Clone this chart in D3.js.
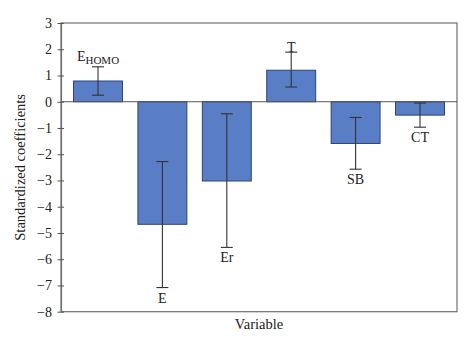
<!DOCTYPE html>
<html><head><meta charset="utf-8">
<script src="https://cdn.jsdelivr.net/npm/d3@7"></script>
<style>body{margin:0;background:#fff}svg{display:block}</style>
</head><body>
<svg id="c" width="474" height="347"></svg>
<script>
const categories = ["EHOMO","E","Er","T","SB","CT"];
const values     = [0.79, -4.67, -3.02, 1.20, -1.59, -0.51];
const errUpper   = [1.33, -2.28, -0.46, 1.89, -0.60, -0.05];
const errLower   = [0.25, -7.08, -5.55, 0.56, -2.57, -0.97];
const yTicks     = [3,2,1,0,-1,-2,-3,-4,-5,-6,-7,-8];

const FONT = "Liberation Serif";
const svg = d3.select("#c").attr("font-family",FONT);
const L=61, R=457, T=23, B=311.7;
const y = d3.scaleLinear().domain([-8,3]).range([B,T]);
const x = d3.scaleBand().domain(categories).range([65.8,452.2]).paddingInner(0.24).paddingOuter(0.12);

// frame
svg.append("rect").attr("x",L).attr("y",T).attr("width",R-L).attr("height",B-T)
  .attr("fill","none").attr("stroke","#707070").attr("stroke-width",1.2);

// bars
svg.selectAll("rect.bar").data(categories).join("rect").attr("class","bar")
  .attr("x",d=>x(d)).attr("width",x.bandwidth())
  .attr("y",(d,i)=>y(Math.max(0,values[i])))
  .attr("height",(d,i)=>Math.abs(y(values[i])-y(0)))
  .attr("fill","#5a7ec6").attr("stroke","#2c4475").attr("stroke-width",1);

// zero line
svg.append("line").attr("x1",L).attr("x2",R).attr("y1",y(0)).attr("y2",y(0))
  .attr("stroke","#555").attr("stroke-width",1);

// error bars
const eb = svg.append("g").attr("stroke","#333").attr("stroke-width",1.1);
categories.forEach((c,i)=>{
  const cx = x(c)+x.bandwidth()/2;
  eb.append("line").attr("x1",cx).attr("x2",cx).attr("y1",y(errUpper[i])).attr("y2",y(errLower[i]));
  [errUpper[i],errLower[i]].forEach(v=>{
    eb.append("line").attr("x1",cx-6).attr("x2",cx+6).attr("y1",y(v)).attr("y2",y(v));
  });
});

// labels
categories.forEach((c,i)=>{
  const cx = x(c)+x.bandwidth()/2;
  const above = values[i] > 0;
  const t = svg.append("text").attr("text-anchor","middle").attr("font-size",14).attr("fill","#222")
    .attr("x",cx).attr("y", above ? y(errUpper[i]) - (c==="T"?0:6) : y(errLower[i]) + 15);
  if (c==="EHOMO") {
    t.append("tspan").text("E");
    t.append("tspan").attr("font-size",11).attr("dy",3).text("HOMO");
  } else t.text(c);
});

// y axis
const ax = d3.axisLeft(y).tickValues(yTicks).tickSize(0).tickPadding(9)
  .tickFormat(d=>d<0?"\u2212"+Math.abs(d):d);
const g = svg.append("g").attr("transform",`translate(${L},0)`).call(ax)
  .attr("font-family",FONT).attr("font-size",14);
g.select(".domain").attr("stroke","#707070").attr("stroke-width",1.2);
g.selectAll(".tick text").attr("fill","#222");
g.selectAll(".tick").append("line").attr("x1",-3.5).attr("x2",3).attr("stroke","#555");

// axis titles
svg.append("text").attr("text-anchor","middle").attr("font-size",14.5).attr("fill","#222")
  .attr("transform",`translate(25,${(T+B)/2}) rotate(-90)`).text("Standardized coefficients");
svg.append("text").attr("text-anchor","middle").attr("font-size",14.5).attr("fill","#222")
  .attr("x",(L+R)/2).attr("y",329).text("Variable");
</script>
</body></html>
